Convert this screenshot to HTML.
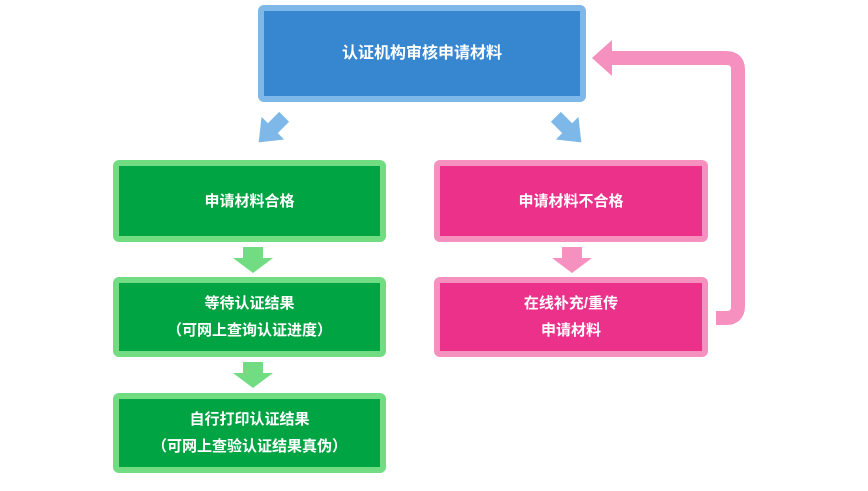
<!DOCTYPE html>
<html><head><meta charset="utf-8"><style>
body{margin:0;width:868px;height:491px;background:#fff;position:relative;overflow:hidden;font-family:"Liberation Sans","Noto Sans CJK SC",sans-serif}
.b{position:absolute;box-sizing:border-box;border:6px solid;border-radius:6px;color:#fff;font-size:15px;font-weight:bold;display:flex;align-items:center;justify-content:center;text-align:center;line-height:27px}
.blue{background:#3787d0;border-color:#7db8e8}
.g{background:#00a443;border-color:#72dc82}
.p{background:#ec318b;border-color:#f590bf}
svg{position:absolute;left:0;top:0}
</style></head><body>
<svg width="868" height="491">
<path d="M716 318 H726 Q738 318 738 306 V70 Q738 58 726 58 H610" fill="none" stroke="#f590bf" stroke-width="14"/>
<polygon points="592,58 612,40 612,76" fill="#f590bf"/>
<polygon points="243,247 263,247 263,258 273,258 253,273 233,258 243,258" fill="#72dc82"/>
<polygon points="243,362 263,362 263,373 273,373 253,388 233,373 243,373" fill="#72dc82"/>
<polygon points="562,247 582,247 582,258 592,258 572,273 552,258 562,258" fill="#f590bf"/>
<g transform="translate(270,131) rotate(45)"><polygon points="-7,-20 7,-20 7,-4 16,-4 0,16 -16,-4 -7,-4" fill="#7db8e8"/></g>
<g transform="translate(570,131) rotate(-45)"><polygon points="-7,-20 7,-20 7,-4 16,-4 0,16 -16,-4 -7,-4" fill="#7db8e8"/></g>
</svg>
<div class="b blue" style="left:258px;top:5px;width:328px;height:97px;font-size:16px">认证机构审核申请材料</div>
<div class="b g" style="left:113px;top:160px;width:273px;height:82px">申请材料合格</div>
<div class="b p" style="left:434px;top:160px;width:274px;height:82px">申请材料不合格</div>
<div class="b g" style="left:113px;top:277px;width:273px;height:80px">等待认证结果<br>（可网上查询认证进度）</div>
<div class="b p" style="left:434px;top:277px;width:274px;height:80px">在线补充/重传<br>申请材料</div>
<div class="b g" style="left:113px;top:393px;width:273px;height:80px">自行打印认证结果<br>（可网上查验认证结果真伪）</div>
</body></html>
